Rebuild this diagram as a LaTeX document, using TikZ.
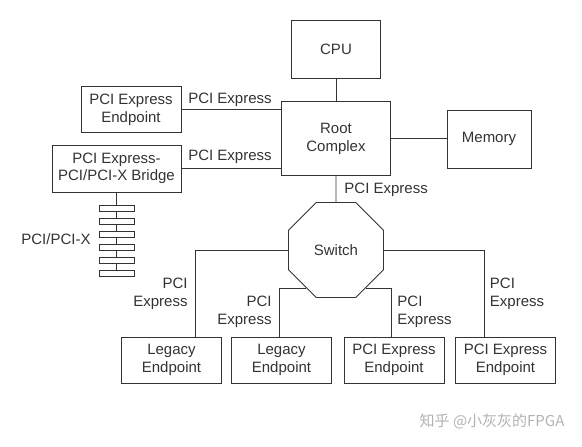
\documentclass[tikz,border=0pt]{standalone}
\usepackage{fontspec}
\setmainfont{Liberation Sans}
\newfontfamily\cjkfont{Noto Sans CJK SC}
\usetikzlibrary{shapes.geometric}
\tikzset{box/.style={draw,align=center,inner sep=0pt,minimum width=#1,minimum height=46}}
\tikzset{box/.default={100}}
\tikzset{octbox/.style={draw,regular polygon,regular polygon sides=8,minimum size=102.8,inner sep=0pt}}
\tikzset{busbar/.style={draw,fill=white,inner sep=0pt,minimum width=35,minimum height=6}}
\tikzset{lbl/.style={inner sep=0pt,align=#1}}
\tikzset{lbl/.default={center}}
\tikzset{font={\fontsize{15pt}{17.5pt}\selectfont}}

\begin{document}
\begin{tikzpicture}[x=1pt,y=-1pt,line width=0.9pt,color=black!80]
        \useasboundingbox (0,0) rectangle (582,447);
        % top part
        \node[box=89,minimum height=58] (cpu) at (336,49.5) {CPU};
        \node[box=109,minimum height=74] (root) at (336,138.7) {Root\\Complex};
        \node[box=84,minimum height=58] (mem) at (489,139) {Memory};
        \node[box] (ep) at (131,109.7) {PCI Express\\Endpoint};
        \node[box=129,minimum height=47] (bridge) at (116.5,168.5) {PCI Express-\\PCI/PCI-X Bridge};
        \node[octbox] (sw) at (336,250) {Switch};
        % endpoints below the switch
        \node[box] (leg1) at (171.5,360) {Legacy\\Endpoint};
        \node[box] (leg2) at (281.5,360) {Legacy\\Endpoint};
        \node[box] (ep3) at (394,360) {PCI Express\\Endpoint};
        \node[box] (ep4) at (505.5,360) {PCI Express\\Endpoint};
        % PCI/PCI-X bus
        \foreach \i in {0,...,5}{
            \node[busbar] (bus\i) at (116.5,208+13*\i) {};
        }
        \draw (bridge.south) -- (bus0.north);
        \foreach \i\j in {0/1,1/2,2/3,3/4,4/5}{
            \draw (bus\i.south) -- (bus\j.north);
        }
        \node[lbl] (lbus) at (56,239) {PCI/PCI-X};
        % links
        \draw (cpu.south) -- (root.north);
        \draw (root.east) -- (root.east -| mem.west);
        \draw (ep.east) -- (ep.east -| root.west);
        \draw (bridge.east) -- (bridge.east -| root.west);
        \draw (root.south) -- (sw.north);
        \draw (sw.west) -| ([xshift=24pt]leg1.north);
        \draw (sw.232) -| ([xshift=-2.5pt]leg2.north);
        \draw (sw.-52) -| ([xshift=-2.3pt]ep3.north);
        \draw (sw.east) -| ([xshift=-21.5pt]ep4.north);
        \node[lbl] (l1) at (230,99.5) {PCI Express};
        \node[lbl] (l2) at (230,156.5) {PCI Express};
        \node[lbl,anchor=west] (l3) at (344,190) {PCI Express};
        \node[lbl=right,anchor=east] (l4) at (188,294) {PCI\\Express};
        \node[lbl=right,anchor=east] (l5) at (272,312) {PCI\\Express};
        \node[lbl=left,anchor=west] (l6) at (397,312) {PCI\\Express};
        \node[lbl=left,anchor=west] (l7) at (489.5,294) {PCI\\Express};
        % watermark
        \node[lbl,text=black!30] (mark) at (492,421) {\cjkfont 知乎 @小灰灰的FPGA};
    \end{tikzpicture}
\end{document}
